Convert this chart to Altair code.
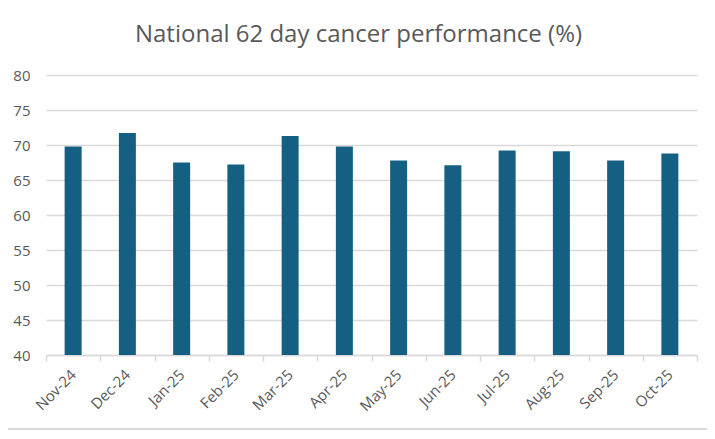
import altair as alt
import pandas as pd

months = ["Nov-24", "Dec-24", "Jan-25", "Feb-25", "Mar-25", "Apr-25",
          "May-25", "Jun-25", "Jul-25", "Aug-25", "Sep-25", "Oct-25"]
values = [69.8, 71.7, 67.5, 67.2, 71.3, 69.8, 67.8, 67.1, 69.2, 69.1, 67.8, 68.8]
y_ticks = [40, 45, 50, 55, 60, 65, 70, 75, 80]

df = pd.DataFrame({"month": months, "value": values})

TEXT = "#595959"
GRID = "#D9D9D9"
FONT = "Open Sans"

bars = alt.Chart(df).mark_bar(color="#156082", size=17).encode(
    x=alt.X("month:N", sort=months, title=None,
            scale=alt.Scale(paddingInner=0, paddingOuter=0),
            axis=alt.Axis(tickBand="extent", ticks=True, tickSize=6, tickColor=GRID,
                          tickWidth=1.5, domainColor=GRID, domainWidth=1.5,
                          labelAngle=-45, labelAlign="right", labelBaseline="middle",
                          labelPadding=11, labelFont=FONT, labelFontSize=15,
                          labelColor=TEXT, grid=False)),
    y=alt.Y("value:Q", title=None,
            scale=alt.Scale(domain=[40, 80], nice=False, zero=False),
            axis=alt.Axis(values=y_ticks, ticks=False, domain=False, grid=True,
                          gridColor=GRID, gridWidth=1.5, labelPadding=16,
                          labelFont=FONT, labelFontSize=15, labelColor=TEXT)),
    y2=alt.datum(40),
)

sheet_line = alt.Chart(pd.DataFrame({"k": [0]})).mark_rule(
    color=GRID, strokeWidth=2
).encode(x=alt.value(-38), x2=alt.value(661), y=alt.value(354))

chart = alt.layer(bars, sheet_line).properties(
    width=651, height=280,
    autosize=alt.AutoSizeParams(type="none"),
    padding={"left": 38, "top": 67, "right": 10, "bottom": 76},
    title=alt.TitleParams("National 62 day cancer performance (%)", font=FONT,
                          fontSize=24, fontWeight="normal", color=TEXT,
                          anchor="middle", dx=-13, offset=21),
).configure_view(stroke=None)

chart.save("out.html", embed_options={"renderer": "svg", "actions": False})
